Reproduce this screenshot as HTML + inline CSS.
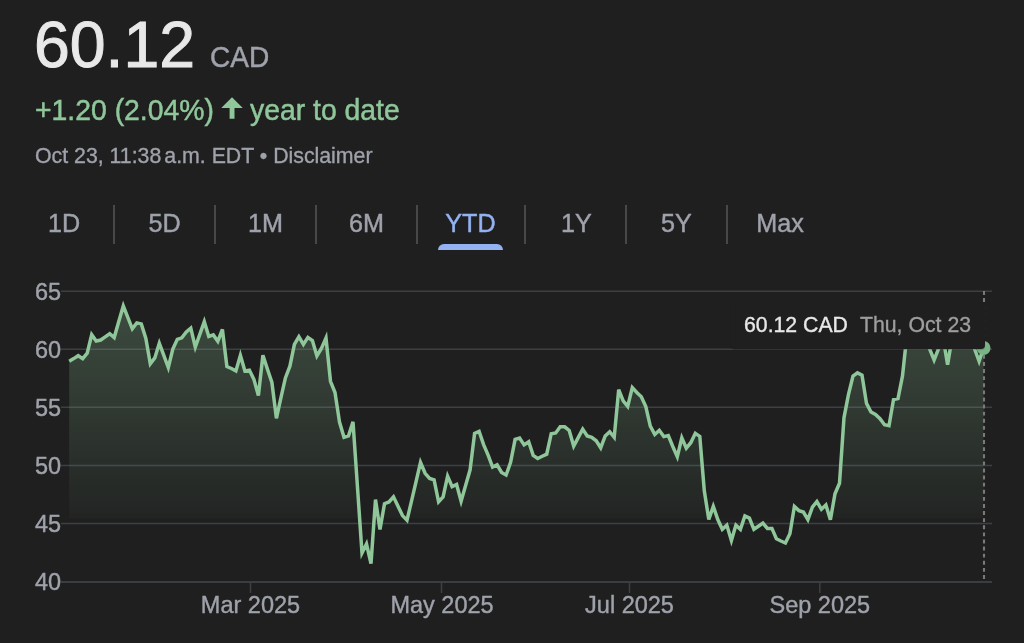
<!DOCTYPE html>
<html>
<head>
<meta charset="utf-8">
<style>
html,body{margin:0;padding:0;}
body{width:1024px;height:643px;background:#1f1f1f;overflow:hidden;position:relative;font-family:"Liberation Sans",sans-serif;}
.t{position:absolute;white-space:nowrap;line-height:1;}
#price{left:34px;top:12px;font-size:65px;color:#e8e8e8;-webkit-text-stroke:1px #e8e8e8;transform:scaleX(0.99);transform-origin:0 0;}
#cur{left:209.5px;top:42px;font-size:30px;color:#9fa2ab;-webkit-text-stroke:0.5px #9fa2ab;transform:scaleX(0.935);transform-origin:0 0;}
#chg,#chg2{left:35px;top:94.6px;font-size:29.3px;color:#8fc69a;transform:scaleX(0.968);transform-origin:0 0;-webkit-text-stroke:0.5px #8fc69a;}
#chg2{left:250px;}
#time{left:35px;top:146px;font-size:21.3px;color:#9fa2ab;-webkit-text-stroke:0.35px #9fa2ab;}
.tab{position:absolute;top:210.7px;font-size:25.2px;color:#9fa2ab;-webkit-text-stroke:0.45px #9fa2ab;line-height:1;transform:translateX(-50%);white-space:nowrap;}
.tab.sel{color:#94b2f1;-webkit-text-stroke:0.45px #94b2f1;}
.sep{position:absolute;top:204.5px;width:2px;height:39px;background:#48484a;}
#ul{position:absolute;left:438px;top:244px;width:65px;height:6px;background:#94b2f1;border-radius:6px 6px 0 0;}
.yl{position:absolute;left:35px;font-size:23.5px;color:#9fa2ab;-webkit-text-stroke:0.4px #9fa2ab;line-height:1;}
.xl{position:absolute;top:594px;font-size:23.5px;color:#9fa2ab;-webkit-text-stroke:0.4px #9fa2ab;line-height:1;transform:translateX(-50%);white-space:nowrap;}
#tip{position:absolute;left:731px;top:302px;width:254px;height:47.4px;background:#1f1f1f;border-radius:4px;box-shadow:0 1px 1px rgba(0,0,0,0.2);}
#tip .a{position:absolute;left:13px;top:13px;font-size:21.25px;color:#e8e8e8;-webkit-text-stroke:0.35px #e8e8e8;line-height:1;white-space:nowrap;}
#tip .b{position:absolute;left:129px;top:13px;font-size:21.25px;color:#9e9e9e;-webkit-text-stroke:0.35px #9e9e9e;line-height:1;white-space:nowrap;}
svg{position:absolute;left:0;top:0;}
#wrap{position:absolute;left:0;top:0;width:1024px;height:643px;will-change:transform;}
</style>
</head>
<body>
<div id="wrap">
<div class="t" id="price">60.12</div>
<div class="t" id="cur">CAD</div>
<div class="t" id="chg">+1.20 (2.04%)</div>
<svg width="1024" height="130" viewBox="0 0 1024 130"><path d="M232 97.2 L221.2 107.9 L229.6 107.9 L229.6 118.7 L234.5 118.7 L234.5 107.9 L242.8 107.9 Z" fill="#8fc69a"/></svg>
<div class="t" id="chg2">year to date</div>
<div class="t" id="time">Oct 23, 11:38<span style="margin-left:3px">a.m.</span> EDT &bull; Disclaimer</div>

<div class="tab" style="left:64px">1D</div>
<div class="sep" style="left:113px"></div>
<div class="tab" style="left:164.5px">5D</div>
<div class="sep" style="left:214px"></div>
<div class="tab" style="left:265.5px">1M</div>
<div class="sep" style="left:315px"></div>
<div class="tab" style="left:366.5px">6M</div>
<div class="sep" style="left:416px"></div>
<div class="tab sel" style="left:470.5px">YTD</div>
<div id="ul"></div>
<div class="sep" style="left:524px"></div>
<div class="tab" style="left:576.5px">1Y</div>
<div class="sep" style="left:625px"></div>
<div class="tab" style="left:676.5px">5Y</div>
<div class="sep" style="left:726px"></div>
<div class="tab" style="left:780px">Max</div>

<svg width="1024" height="643" viewBox="0 0 1024 643">
<defs>
<linearGradient id="g" x1="0" y1="295" x2="0" y2="518.4" gradientUnits="userSpaceOnUse">
<stop offset="0" stop-color="#8fc69a" stop-opacity="0.28"/>
<stop offset="1" stop-color="#8fc69a" stop-opacity="0.035"/>
</linearGradient>
<clipPath id="cp"><rect x="60" y="280" width="940" height="238.4"/></clipPath>
</defs>
<g stroke="#3c4043" stroke-width="1.5">
<line x1="61" y1="291.2" x2="992" y2="291.2"/>
<line x1="61" y1="349.2" x2="992" y2="349.2"/>
<line x1="61" y1="407.3" x2="992" y2="407.3"/>
<line x1="61" y1="465.4" x2="992" y2="465.4"/>
<line x1="61" y1="523.5" x2="992" y2="523.5"/>
<line x1="61" y1="582" x2="992" y2="582" stroke-width="2.2" stroke="#3b3e41"/>
<line x1="250.5" y1="581.5" x2="250.5" y2="593"/>
<line x1="441.5" y1="581.5" x2="441.5" y2="593"/>
<line x1="629.5" y1="581.5" x2="629.5" y2="593"/>
<line x1="819.8" y1="581.5" x2="819.8" y2="593"/>
</g>
<path id="area" fill="url(#g)" stroke="none" clip-path="url(#cp)" d="M69.2 361.3 L73.7 358.6 L78.2 355.7 L82.7 358.6 L87.2 353.2 L91.7 334.7 L96.2 341.0 L100.7 340.0 L105.2 336.9 L109.7 333.7 L114.2 337.6 L118.7 321.7 L123.3 305.9 L127.8 317.3 L132.3 328.8 L136.8 322.9 L141.3 323.9 L145.8 338.1 L150.3 363.7 L154.8 357.9 L159.3 343.2 L163.8 355.4 L168.3 367.6 L172.8 349.1 L177.3 339.3 L181.8 337.8 L186.3 332.0 L190.8 328.1 L195.3 347.1 L199.8 334.4 L204.3 321.7 L208.8 336.4 L213.3 334.9 L217.8 341.3 L222.4 329.5 L226.9 366.6 L231.4 368.5 L235.9 370.9 L240.4 355.3 L244.9 370.9 L249.4 370.1 L253.9 379.4 L258.4 395.5 L262.9 355.3 L267.4 369.0 L271.9 382.5 L276.4 418.3 L280.9 397.8 L285.4 377.9 L289.9 366.2 L294.4 344.4 L298.9 336.7 L303.4 344.4 L307.9 337.4 L312.4 340.6 L316.9 356.0 L321.4 348.5 L326.0 338.0 L330.5 381.3 L335.0 392.5 L339.5 422.0 L344.0 437.2 L348.5 435.8 L353.0 421.9 L357.5 487.5 L362.0 553.0 L366.5 544.0 L371.0 563.6 L375.5 499.6 L380.0 529.5 L384.5 503.7 L389.0 502.0 L393.5 496.8 L398.0 506.2 L402.5 515.6 L407.0 520.2 L411.5 501.1 L416.0 481.9 L420.5 462.4 L425.1 473.3 L429.6 478.5 L434.1 479.8 L438.6 501.8 L443.1 496.8 L447.6 476.1 L452.1 486.6 L456.6 484.5 L461.1 501.3 L465.6 485.5 L470.1 469.8 L474.6 433.4 L479.1 431.3 L483.6 444.6 L488.1 455.1 L492.6 467.0 L497.1 464.8 L501.6 472.4 L506.1 475.0 L510.6 462.3 L515.1 439.3 L519.6 438.0 L524.1 444.9 L528.7 441.7 L533.2 455.4 L537.7 458.5 L542.2 456.3 L546.7 454.2 L551.2 433.7 L555.7 433.0 L560.2 426.8 L564.7 426.8 L569.2 430.5 L573.7 446.1 L578.2 437.7 L582.7 429.1 L587.2 436.0 L591.7 437.3 L596.2 440.8 L600.7 447.8 L605.2 435.9 L609.7 431.7 L614.2 437.3 L618.7 389.7 L623.2 400.9 L627.7 406.5 L632.3 387.6 L636.8 392.5 L641.3 396.7 L645.8 406.5 L650.3 426.1 L654.8 434.5 L659.3 430.3 L663.8 436.6 L668.3 435.5 L672.8 446.5 L677.3 456.8 L681.8 437.8 L686.3 448.1 L690.8 442.7 L695.3 433.3 L699.8 436.4 L704.3 490.8 L708.8 519.5 L713.3 506.3 L717.8 519.5 L722.3 529.3 L726.8 525.1 L731.4 540.5 L735.9 525.1 L740.4 529.3 L744.9 516.0 L749.4 518.1 L753.9 529.3 L758.4 526.2 L762.9 523.0 L767.4 528.4 L771.9 528.4 L776.4 538.8 L780.9 541.0 L785.4 543.0 L789.9 533.7 L794.4 506.4 L798.9 510.6 L803.4 512.0 L807.9 519.7 L812.4 507.1 L816.9 501.5 L821.4 509.2 L825.9 505.0 L830.4 519.7 L835.0 493.8 L839.5 483.3 L844.0 417.6 L848.5 394.3 L853.0 376.1 L857.5 372.9 L862.0 375.1 L866.5 403.4 L871.0 412.0 L875.5 414.5 L880.0 418.6 L884.5 424.7 L889.0 425.7 L893.5 399.6 L898.0 398.5 L902.5 375.9 L907.0 334.0 L911.5 338.0 L916.0 333.0 L920.5 341.0 L925.0 337.0 L929.5 348.6 L934.1 360.0 L938.6 348.6 L943.1 337.6 L947.6 364.6 L952.1 337.6 L956.6 342.0 L961.1 335.0 L965.6 339.0 L970.1 336.0 L974.6 349.0 L979.1 361.3 L983.6 347.7 L983.6 518.4 L69.2 518.4 Z"/>
<path id="line" fill="none" stroke="#8fc69a" stroke-width="3.5" stroke-linejoin="miter" stroke-linecap="butt" d="M69.2 361.3 L73.7 358.6 L78.2 355.7 L82.7 358.6 L87.2 353.2 L91.7 334.7 L96.2 341.0 L100.7 340.0 L105.2 336.9 L109.7 333.7 L114.2 337.6 L118.7 321.7 L123.3 305.9 L127.8 317.3 L132.3 328.8 L136.8 322.9 L141.3 323.9 L145.8 338.1 L150.3 363.7 L154.8 357.9 L159.3 343.2 L163.8 355.4 L168.3 367.6 L172.8 349.1 L177.3 339.3 L181.8 337.8 L186.3 332.0 L190.8 328.1 L195.3 347.1 L199.8 334.4 L204.3 321.7 L208.8 336.4 L213.3 334.9 L217.8 341.3 L222.4 329.5 L226.9 366.6 L231.4 368.5 L235.9 370.9 L240.4 355.3 L244.9 370.9 L249.4 370.1 L253.9 379.4 L258.4 395.5 L262.9 355.3 L267.4 369.0 L271.9 382.5 L276.4 418.3 L280.9 397.8 L285.4 377.9 L289.9 366.2 L294.4 344.4 L298.9 336.7 L303.4 344.4 L307.9 337.4 L312.4 340.6 L316.9 356.0 L321.4 348.5 L326.0 338.0 L330.5 381.3 L335.0 392.5 L339.5 422.0 L344.0 437.2 L348.5 435.8 L353.0 421.9 L357.5 487.5 L362.0 553.0 L366.5 544.0 L371.0 563.6 L375.5 499.6 L380.0 529.5 L384.5 503.7 L389.0 502.0 L393.5 496.8 L398.0 506.2 L402.5 515.6 L407.0 520.2 L411.5 501.1 L416.0 481.9 L420.5 462.4 L425.1 473.3 L429.6 478.5 L434.1 479.8 L438.6 501.8 L443.1 496.8 L447.6 476.1 L452.1 486.6 L456.6 484.5 L461.1 501.3 L465.6 485.5 L470.1 469.8 L474.6 433.4 L479.1 431.3 L483.6 444.6 L488.1 455.1 L492.6 467.0 L497.1 464.8 L501.6 472.4 L506.1 475.0 L510.6 462.3 L515.1 439.3 L519.6 438.0 L524.1 444.9 L528.7 441.7 L533.2 455.4 L537.7 458.5 L542.2 456.3 L546.7 454.2 L551.2 433.7 L555.7 433.0 L560.2 426.8 L564.7 426.8 L569.2 430.5 L573.7 446.1 L578.2 437.7 L582.7 429.1 L587.2 436.0 L591.7 437.3 L596.2 440.8 L600.7 447.8 L605.2 435.9 L609.7 431.7 L614.2 437.3 L618.7 389.7 L623.2 400.9 L627.7 406.5 L632.3 387.6 L636.8 392.5 L641.3 396.7 L645.8 406.5 L650.3 426.1 L654.8 434.5 L659.3 430.3 L663.8 436.6 L668.3 435.5 L672.8 446.5 L677.3 456.8 L681.8 437.8 L686.3 448.1 L690.8 442.7 L695.3 433.3 L699.8 436.4 L704.3 490.8 L708.8 519.5 L713.3 506.3 L717.8 519.5 L722.3 529.3 L726.8 525.1 L731.4 540.5 L735.9 525.1 L740.4 529.3 L744.9 516.0 L749.4 518.1 L753.9 529.3 L758.4 526.2 L762.9 523.0 L767.4 528.4 L771.9 528.4 L776.4 538.8 L780.9 541.0 L785.4 543.0 L789.9 533.7 L794.4 506.4 L798.9 510.6 L803.4 512.0 L807.9 519.7 L812.4 507.1 L816.9 501.5 L821.4 509.2 L825.9 505.0 L830.4 519.7 L835.0 493.8 L839.5 483.3 L844.0 417.6 L848.5 394.3 L853.0 376.1 L857.5 372.9 L862.0 375.1 L866.5 403.4 L871.0 412.0 L875.5 414.5 L880.0 418.6 L884.5 424.7 L889.0 425.7 L893.5 399.6 L898.0 398.5 L902.5 375.9 L907.0 334.0 L911.5 338.0 L916.0 333.0 L920.5 341.0 L925.0 337.0 L929.5 348.6 L934.1 360.0 L938.6 348.6 L943.1 337.6 L947.6 364.6 L952.1 337.6 L956.6 342.0 L961.1 335.0 L965.6 339.0 L970.1 336.0 L974.6 349.0 L979.1 361.3 L983.6 347.7"/>
<line x1="984" y1="291" x2="984" y2="578.9" stroke="#797979" stroke-width="2.1" stroke-dasharray="3.9 3.2"/>
<circle cx="983.6" cy="348" r="6.9" fill="#78b486"/>
</svg>

<div class="yl" style="top:281px">65</div>
<div class="yl" style="top:339px">60</div>
<div class="yl" style="top:397px">55</div>
<div class="yl" style="top:455px">50</div>
<div class="yl" style="top:513px">45</div>
<div class="yl" style="top:571px">40</div>

<div class="xl" style="left:250.5px">Mar 2025</div>
<div class="xl" style="left:442px">May 2025</div>
<div class="xl" style="left:629.5px">Jul 2025</div>
<div class="xl" style="left:819.8px">Sep 2025</div>

<div id="tip"><span class="a">60.12 CAD</span><span class="b">Thu, Oct 23</span></div>
</div>
</body>
</html>
